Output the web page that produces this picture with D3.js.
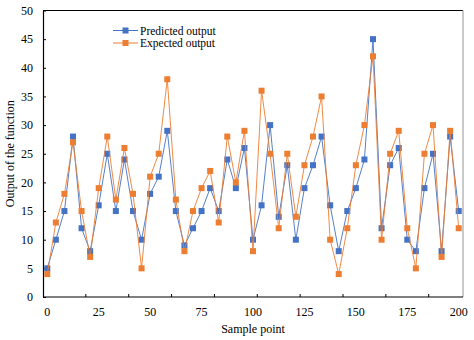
<!doctype html>
<html lang="en">
<head>
  <meta charset="utf-8">
  <title>Predicted vs expected output</title>
  <style>
    body { margin: 0; background: #fff; }
    svg text { font-family: "Liberation Serif", "Times New Roman", serif; fill: #000; }
  </style>
</head>
<body>
<div id="chart"></div>
<script src="https://cdn.jsdelivr.net/npm/d3@7"></script>
<script>
// one value per sample, 49 samples spread over 0..200
var predicted = [5, 10, 15, 28, 12, 8, 16, 25, 15, 24, 15, 10, 18, 21, 29, 15, 9, 12, 15, 19,
                 15, 24, 19, 26, 10, 16, 30, 14, 23, 10, 19, 23, 28, 16, 8, 15, 19, 24, 45, 12,
                 23, 26, 10, 8, 19, 25, 8, 28, 15];
var expected  = [4, 13, 18, 27, 15, 7, 19, 28, 17, 26, 18, 5, 21, 25, 38, 17, 8, 15, 19, 22,
                 13, 28, 20, 29, 8, 36, 25, 12, 25, 14, 23, 28, 35, 10, 4, 12, 23, 30, 42, 10,
                 25, 29, 12, 5, 25, 30, 7, 29, 12];
var xLabels = [0, 25, 50, 75, 100, 125, 150, 175, 200];
var yTicks = [0, 5, 10, 15, 20, 25, 30, 35, 40, 45, 50];
var seriesNames = ["Predicted output", "Expected output"];
var colors = ["#4472C4", "#ED7D31"];

var W = 474, H = 340;
var m = {left: 43, right: 11, top: 10.5, bottom: 43};

var svg = d3.select("#chart").append("svg")
    .attr("width", W).attr("height", H);

var idx = d3.range(predicted.length);
var x = d3.scaleBand().domain(idx).range([m.left, W - m.right]);
var cx = function(i) { return x(i) + x.bandwidth() / 2; };
var y = d3.scaleLinear().domain([0, 50]).range([H - m.bottom, m.top]);

// frame: top black, right grey
svg.append("line").attr("x1", m.left).attr("x2", W - m.right)
    .attr("y1", m.top).attr("y2", m.top).attr("stroke", "#000").attr("stroke-width", 1.2);
svg.append("line").attr("x1", W - m.right).attr("x2", W - m.right)
    .attr("y1", m.top).attr("y2", H - m.bottom).attr("stroke", "#a6a6a6").attr("stroke-width", 1.2);

// y axis with inward ticks
var gy = svg.append("g").attr("transform", "translate(" + m.left + ",0)")
    .call(d3.axisLeft(y).tickValues(yTicks).tickSizeInner(-3).tickSizeOuter(0).tickPadding(10));
gy.select(".domain").attr("stroke", "#000").attr("stroke-width", 1.2);
gy.selectAll("text").attr("font-size", 12).attr("font-family", "Liberation Serif");

// x axis: ticks every 5 category boundaries, labels every 6 categories
var bottom = H - m.bottom;
svg.append("line").attr("x1", m.left).attr("x2", W - m.right)
    .attr("y1", bottom).attr("y2", bottom).attr("stroke", "#000").attr("stroke-width", 1.2);
var tickIdx = idx.filter(function(i) { return i > 0 && i % 5 === 0; });
svg.selectAll(".xtick").data(tickIdx).enter().append("line")
    .attr("x1", function(i) { return x(i); }).attr("x2", function(i) { return x(i); })
    .attr("y1", bottom).attr("y2", bottom - 3).attr("stroke", "#000");
var step = (predicted.length - 1) / (xLabels.length - 1);
svg.selectAll(".xlab").data(xLabels).enter().append("text")
    .attr("x", function(d, k) { return cx(k * step); })
    .attr("y", bottom + 19)
    .attr("text-anchor", "middle").attr("font-size", 12)
    .text(function(d) { return d; });

// axis titles
svg.append("text").attr("x", (m.left + W - m.right) / 2).attr("y", H - 7)
    .attr("text-anchor", "middle").attr("font-size", 12).text("Sample point");
svg.append("text")
    .attr("transform", "translate(14," + ((m.top + bottom) / 2) + ") rotate(-90)")
    .attr("text-anchor", "middle").attr("font-size", 12).text("Output of the function");

// series
var line = d3.line().x(function(d, i) { return cx(i); }).y(function(d) { return y(d); });
[predicted, expected].forEach(function(vals, s) {
  svg.append("path").datum(vals).attr("d", line)
      .attr("fill", "none").attr("stroke", colors[s]).attr("stroke-width", 1)
      .attr("opacity", 0.9);
  svg.selectAll(".m" + s).data(vals).enter().append("rect")
      .attr("x", function(d, i) { return cx(i) - 3; })
      .attr("y", function(d) { return y(d) - 3; })
      .attr("width", 6).attr("height", 6)
      .attr("fill", colors[s]);
});

// legend
var lg = svg.append("g");
seriesNames.forEach(function(name, s) {
  var ly = 30.5 + s * 12.5;
  lg.append("line").attr("x1", 113).attr("x2", 138).attr("y1", ly).attr("y2", ly)
      .attr("stroke", colors[s]).attr("stroke-width", 1);
  lg.append("rect").attr("x", 122.5).attr("y", ly - 3).attr("width", 6).attr("height", 6)
      .attr("fill", colors[s]);
  lg.append("text").attr("x", 140).attr("y", ly + 4).attr("font-size", 11.5).text(name);
});
</script>
</body>
</html>
